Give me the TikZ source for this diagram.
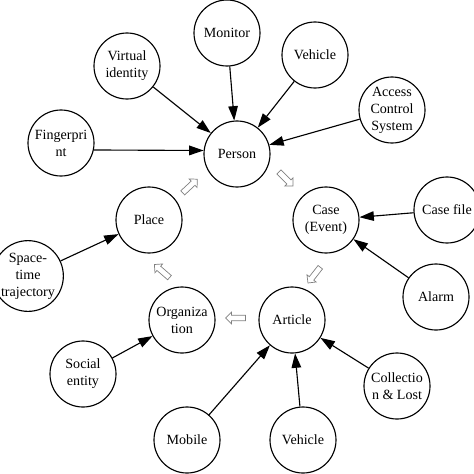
\documentclass[tikz,border=0pt]{standalone}
\usepackage{fontspec}
\setmainfont{Liberation Serif}
\usetikzlibrary{arrows.meta,shapes.arrows}
\tikzset{ent/.style={circle,draw,line width=0.8pt,minimum size=1.65cm,inner sep=0pt,align=center,font=\fontsize{10}{12}\selectfont},
	 link/.style={line width=0.8pt,-{Triangle[length=3.6mm,width=2.4mm]}},
	 flow/.style={single arrow,draw=gray,line width=0.5pt,inner sep=0.62mm,minimum height=5mm,single arrow head extend=0.75mm,single arrow head indent=0pt}
	 }

\begin{document}
\begin{tikzpicture}[x=0.025cm,y=-0.025cm] % entity graph
	\useasboundingbox (0,0) rectangle (474,474);
        \node[ent] (per) at (237,154) {Person};
        \node[ent] (mon) at (227,33) {Monitor};
        \node[ent] (vid) at (127,66) {Virtual\\identity};
        \node[ent] (veh) at (315,55) {Vehicle};
        \node[ent] (acs) at (392,110) {Access\\Control\\System};
        \node[ent] (fin) at (61,143) {Fingerpri\\nt};
        \node[ent] (pla) at (149,220) {Place};
        \node[ent] (cas) at (326,220) {Case\\(Event)};
        \node[ent] (cfi) at (447,210) {Case file};
        \node[ent] (stt) at (28,276) {Space-\\time\\trajectory};
        \node[ent] (ala) at (436,297) {Alarm};
        \node[ent] (org) at (182,320) {Organiza\\tion};
        \node[ent] (art) at (292,320) {Article};
        \node[ent] (soc) at (83,374) {Social\\entity};
        \node[ent] (col) at (397,386) {Collectio\\n \& Lost};
        \node[ent] (mob) at (187,440) {Mobile};
        \node[ent] (vea) at (303,440) {Vehicle};
	\draw[link] (mon) to (per);
	\draw[link] (vid) to (per);
	\draw[link] (veh) to (per);
	\draw[link] (acs) to (per);
	\draw[link] (fin.-12) to (per.174);
	\draw[link] (cfi) to (cas);
	\draw[link] (ala) to (cas);
	\draw[link] (stt) to (pla);
	\draw[link] (soc) to (org);
	\draw[link] (mob) to (art);
	\draw[link] (vea) to (art);
	\draw[link] (col) to (art);
        \node[flow,rotate=43] (f1) at (189,187) {};
        \node[flow,rotate=-45] (f2) at (285,178) {};
        \node[flow,rotate=232] (f3) at (315,274) {};
        \node[flow,rotate=180] (f4) at (237,318) {};
        \node[flow,rotate=139] (f5) at (163,272) {};
     \end{tikzpicture}
\end{document}
